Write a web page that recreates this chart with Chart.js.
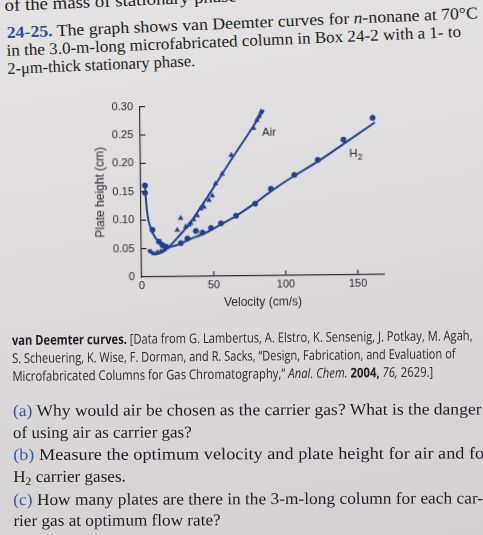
<!DOCTYPE html>
<html>
<head>
<meta charset="utf-8">
<script src="https://cdn.jsdelivr.net/npm/chart.js@4.4.1/dist/chart.umd.min.js"></script>
<style>
  html, body { margin: 0; padding: 0; }
  body {
    width: 483px; height: 535px; overflow: hidden; position: relative;
    background: linear-gradient(170deg, #e4e2e3 0%, #dddbdc 45%, #d3d0d2 100%);
    color: #1e1e22;
  }
  .blk { position: absolute; left: 0; top: 0; width: 483px; height: 535px; }
  .ln { position: absolute; white-space: nowrap; transform-origin: 0 50%; line-height: 1; }
  .serif { font-family: "Liberation Serif", "DejaVu Serif", serif; }
  .sans { font-family: "Open Sans", "Liberation Sans", sans-serif; color: #2c2c30; }
  .num { color: #2f4f98; font-weight: bold; }
  .ql { color: #3a5aa6; }
  sub { font-size: 0.68em; vertical-align: -0.28em; line-height: 0; }
  #chartBox { position: absolute; left: 90px; top: 92px; width: 300px; height: 222px; transform: rotate(-0.6deg); }
</style>
</head>
<body>

<div class="blk serif" style="transform: rotate(-2.4deg); transform-origin: 7px 38px; font-size: 16.5px;">
  <span class="ln" style="left:6px; top:-3px; font-size:17.5px;" data-w="232">of the mass of stationary phase</span>
  <span class="ln" style="left:7px; top:25px;" data-w="471"><span class="num">24-25.</span> The graph shows van Deemter curves for <i>n</i>-nonane at 70°C</span>
  <span class="ln" style="left:6px; top:43px;" data-w="455">in the 3.0-m-long microfabricated column in Box 24-2 with a 1- to</span>
  <span class="ln" style="left:6px; top:61px;" data-w="188">2-μm-thick stationary phase.</span>
</div>

<div id="chartBox"><canvas id="vanDeemterChart"></canvas></div>

<div class="blk sans" style="transform: rotate(-0.6deg); transform-origin: 12px 345px; font-size: 13.5px;">
  <span class="ln" style="left:12px; top:334px;" data-w="461"><b style="color:#1e1e22">van Deemter curves.</b> [Data from G. Lambertus, A. Elstro, K. Sensenig, J. Potkay, M. Agah,</span>
  <span class="ln" style="left:12px; top:352px;" data-w="443">S. Scheuering, K. Wise, F. Dorman, and R. Sacks, “Design, Fabrication, and Evaluation of</span>
  <span class="ln" style="left:12px; top:370px;" data-w="421">Microfabricated Columns for Gas Chromatography,” <i>Anal. Chem.</i> <b style="color:#1e1e22">2004,</b> <i>76,</i> 2629.]</span>
</div>

<div class="blk serif" style="transform: rotate(-0.2deg); transform-origin: 14px 417px; font-size: 16.5px;">
  <span class="ln" style="left:13px; top:403px;" data-w="469"><span class="ql">(a)</span> Why would air be chosen as the carrier gas? What is the danger</span>
  <span class="ln" style="left:13px; top:425px;" data-w="179">of using air as carrier gas?</span>
  <span class="ln" style="left:13px; top:447px;" data-w="477"><span class="ql">(b)</span> Measure the optimum velocity and plate height for air and for</span>
  <span class="ln" style="left:13px; top:469px;" data-w="113">H<sub>2</sub> carrier gases.</span>
  <span class="ln" style="left:13px; top:492px;" data-w="470"><span class="ql">(c)</span> How many plates are there in the 3-m-long column for each car-</span>
  <span class="ln" style="left:13px; top:513px;" data-w="207">rier gas at optimum flow rate?</span>
</div>

<script>
// axis ticks
const xTicks = [0, 50, 100, 150];
const yTicks = [0, 0.05, 0.10, 0.15, 0.20, 0.25, 0.30];
const yTickLabels = ['0', '0.05', '0.10', '0.15', '0.20', '0.25', '0.30'];

// measured points, air carrier (triangles)
const airVelocity = [6.4, 8.7, 11, 13.4, 15.7, 18, 25, 27.4, 30.9, 33.2, 34.4, 36.5, 39, 41.4, 43.7, 47.2, 49.5, 51.9, 56.5, 63, 78.7, 81, 82.6, 84];
const airHeight = [0.045, 0.041, 0.043, 0.045, 0.048, 0.052, 0.082, 0.103, 0.088, 0.091, 0.094, 0.100, 0.107, 0.119, 0.122, 0.134, 0.142, 0.163, 0.180, 0.213, 0.260, 0.274, 0.281, 0.289];

// measured points, H2 carrier (circles)
const h2Velocity = [2.9, 2.9, 7.8, 12.2, 14.5, 17, 27.4, 32, 37.9, 42.5, 48.4, 55.4, 65.9, 79.2, 90.3, 106.6, 123, 141, 161.4];
const h2Height = [0.161, 0.148, 0.083, 0.062, 0.056, 0.053, 0.059, 0.067, 0.080, 0.077, 0.085, 0.093, 0.106, 0.127, 0.153, 0.177, 0.203, 0.238, 0.276];

// fitted curves
const airCurveX = [4.5, 6.5, 9, 12, 15, 18, 22, 27, 33, 42, 52, 63, 75, 86];
const airCurveY = [0.048, 0.043, 0.040, 0.041, 0.044, 0.050, 0.060, 0.074, 0.091, 0.124, 0.162, 0.205, 0.250, 0.292];
const h2CurveX = [2.9, 3.4, 4.2, 5.2, 6.5, 8, 10, 12.5, 15, 19, 24, 33, 45, 56, 66, 78, 90, 105, 123, 143, 163];
const h2CurveY = [0.160, 0.138, 0.114, 0.098, 0.087, 0.077, 0.068, 0.061, 0.057, 0.053, 0.055, 0.065, 0.077, 0.092, 0.106, 0.126, 0.148, 0.173, 0.200, 0.234, 0.268];

const curveLabels = [
    { text: 'Air', sub: '', x: 84.5, y: 0.252 },
    { text: 'H', sub: '2', x: 145, y: 0.214 }
];

const ink = '#21408e';
const axisColor = '#2f2f33';
const textColor = '#2a2a2e';
const zip = (xs, ys) => xs.map((x, i) => ({ x: x, y: ys[i] }));

Chart.defaults.font.family = '"Liberation Sans", Arial, sans-serif';
Chart.defaults.color = textColor;

// ticks point into the plot, and the curve names sit beside the lines
const insideTicks = {
    id: 'insideTicks',
    afterDatasetsDraw(chart) {
        const { ctx, chartArea, scales: { x, y } } = chart;
        ctx.save();
        ctx.strokeStyle = axisColor;
        ctx.lineWidth = 1.2;
        xTicks.forEach(v => {
            if (v === 0) return;
            const px = x.getPixelForValue(v);
            ctx.beginPath(); ctx.moveTo(px, chartArea.bottom); ctx.lineTo(px, chartArea.bottom - 5); ctx.stroke();
        });
        yTicks.forEach(v => {
            if (v === 0) return;
            const py = y.getPixelForValue(v);
            ctx.beginPath(); ctx.moveTo(chartArea.left, py); ctx.lineTo(chartArea.left + 5, py); ctx.stroke();
        });
        ctx.fillStyle = textColor;
        ctx.textBaseline = 'middle';
        ctx.textAlign = 'left';
        curveLabels.forEach(l => {
            const px = x.getPixelForValue(l.x), py = y.getPixelForValue(l.y);
            ctx.font = '11.5px "Liberation Sans", Arial, sans-serif';
            ctx.fillText(l.text, px, py);
            if (l.sub) {
                const w = ctx.measureText(l.text).width;
                ctx.font = '8.5px "Liberation Sans", Arial, sans-serif';
                ctx.fillText(l.sub, px + w, py + 4);
            }
        });
        ctx.restore();
    }
};

const vanDeemterCtx = document.getElementById('vanDeemterChart').getContext('2d');
let vanDeemterChart = new Chart(vanDeemterCtx, {
    type: 'scatter',
    data: {
        datasets: [
            { label: 'Air fit', data: zip(airCurveX, airCurveY), showLine: true, borderColor: ink, borderWidth: 2, pointRadius: 0, cubicInterpolationMode: 'monotone' },
            { label: 'H2 fit', data: zip(h2CurveX, h2CurveY), showLine: true, borderColor: ink, borderWidth: 2, pointRadius: 0, cubicInterpolationMode: 'monotone' },
            { label: 'Air', data: zip(airVelocity, airHeight), pointStyle: 'triangle', pointRadius: 2.8, backgroundColor: ink, borderColor: ink, borderWidth: 0.5 },
            { label: 'H2', data: zip(h2Velocity, h2Height), pointStyle: 'circle', pointRadius: 2.7, backgroundColor: ink, borderColor: ink, borderWidth: 0.5 }
        ]
    },
    options: {
        responsive: true,
        maintainAspectRatio: false,
        animation: false,
        events: [],
        layout: { padding: { top: 10, right: 7, left: 0, bottom: 0 } },
        plugins: { legend: { display: false }, tooltip: { enabled: false } },
        scales: {
            x: {
                type: 'linear', min: 0, max: 168,
                afterBuildTicks: s => { s.ticks = xTicks.map(v => ({ value: v })); },
                afterFit: s => { s.height = 38; },
                grid: { drawOnChartArea: false, drawTicks: false },
                border: { color: axisColor, width: 1.2 },
                ticks: { padding: 2, font: { size: 11 }, color: textColor, maxRotation: 0 },
                title: { display: true, text: 'Velocity (cm/s)', font: { size: 12 }, color: textColor, padding: { top: 0, bottom: 4 } }
            },
            y: {
                type: 'linear', min: 0, max: 0.30,
                afterBuildTicks: s => { s.ticks = yTicks.map(v => ({ value: v })); },
                afterFit: s => { s.width = 51; },
                grid: { drawOnChartArea: false, drawTicks: false },
                border: { color: axisColor, width: 1.2 },
                ticks: { padding: 7, font: { size: 11 }, color: textColor, callback: (v, i) => yTickLabels[i] },
                title: { display: true, text: 'Plate height (cm)', font: { size: 12 }, color: textColor, padding: { top: 3, bottom: 0 } }
            }
        }
    },
    plugins: [insideTicks]
});

// stretch each text line to its measured width in the photo
function fitLines() {
    document.querySelectorAll('.ln[data-w]').forEach(el => {
        el.style.transform = 'none';
        const w = el.offsetWidth;
        const k = parseFloat(el.dataset.w) / w;
        el.style.transform = 'scaleX(' + k + ')';
    });
}
fitLines();
if (document.fonts && document.fonts.ready) document.fonts.ready.then(fitLines);
</script>
</body>
</html>
